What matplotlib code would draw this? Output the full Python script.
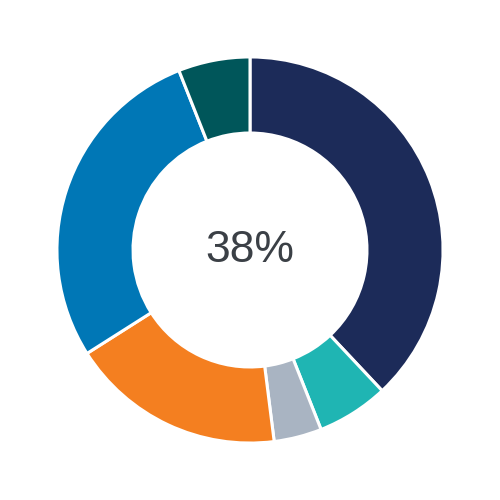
import matplotlib.pyplot as plt

# share of each segment, clockwise from 12 o'clock
shares = [38, 6, 4, 18, 28, 6]
colors = ['#1c2b59', '#1fb5b3', '#a9b4c2', '#f47f20', '#0077b6', '#00565a']
center_label = '38%'

fig = plt.figure(figsize=(5, 5), dpi=100)
ax = fig.add_axes([0, 0, 1, 1])
ax.pie(shares, colors=colors, startangle=90, counterclock=False, radius=1,
       wedgeprops=dict(width=0.394, edgecolor='white', linewidth=2.2))
ax.text(0, 0, center_label, ha='center', va='center', fontsize=32,
        color='#3b4046', family='Liberation Sans')
ax.set_xlim(-1.295, 1.295)
ax.set_ylim(-1.295, 1.295)
ax.set_aspect('equal')
ax.axis('off')

plt.savefig('out.png')
